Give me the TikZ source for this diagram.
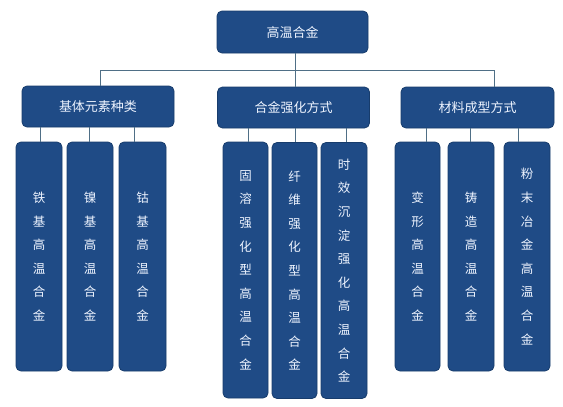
\documentclass[tikz,border=0pt]{standalone}
\usepackage{fontspec}
\newfontfamily\cjk{Noto Sans CJK SC}
\definecolor{boxfill}{HTML}{1F4B86}
\definecolor{boxedge}{HTML}{173C6C}
\definecolor{connc}{HTML}{4F6F86}
\definecolor{txtc}{HTML}{EEF4FF}
\tikzset{
  base/.style={fill=boxfill, draw=boxedge, line width=0.8pt, text=txtc, inner sep=0pt},
  topbox/.style={base, rounded corners=5pt, minimum width=151pt, minimum height=42pt, font=\cjk\fontsize{13}{15}\selectfont},
  midbox/.style={base, rounded corners=5pt, minimum width=152pt, minimum height=41pt, font=\cjk\fontsize{13}{15}\selectfont},
  leafbox/.style={base, rounded corners=5pt, minimum width=46pt, align=center, font=\cjk\fontsize{12.5}{23.6}\selectfont},
  shortleaf/.style={leafbox, minimum height=229pt},
  longleaf/.style={leafbox, minimum height=256pt},
  conn/.style={draw=connc, line width=0.9pt}
}
\begin{document}
\begin{tikzpicture}[x=1pt,y=-1pt]
\useasboundingbox[fill=white] (0,0) rectangle (563,407);
% top
\node[topbox] (top) at (292.5,32) {高温合金};
% level 1
\node[midbox] (la) at (98,106.5) {基体元素种类};
\node[midbox] (lb) at (293.5,107.5) {合金强化方式};
\node[midbox, minimum width=153pt] (lc) at (477.5,107.5) {材料成型方式};
% leaves left
\node[shortleaf] (a1) at (39,256.5) {铁\\基\\高\\温\\合\\金};
\node[shortleaf] (a2) at (90,256.5) {镍\\基\\高\\温\\合\\金};
\node[shortleaf, minimum width=47pt] (a3) at (142.5,256.5) {钴\\基\\高\\温\\合\\金};
% leaves middle
\node[longleaf, minimum width=45pt] (b1) at (245.5,270) {固\\溶\\强\\化\\型\\高\\温\\合\\金};
\node[longleaf, minimum width=45pt] (b2) at (294.5,270.5) {纤\\维\\强\\化\\型\\高\\温\\合\\金};
\node[longleaf] (b3) at (344,270.5) {时\\效\\沉\\淀\\强\\化\\高\\温\\合\\金};
% leaves right
\node[shortleaf, minimum width=45pt] (c1) at (417.5,256.5) {变\\形\\高\\温\\合\\金};
\node[shortleaf] (c2) at (471,256.5) {铸\\造\\高\\温\\合\\金};
\node[shortleaf] (c3) at (527,256.5) {粉\\末\\冶\\金\\高\\温\\合\\金};
% bus
\coordinate (busy) at (0,70);
\draw[conn] ([xshift=2.5pt]top.south) -- ([xshift=2.5pt]top.south |- busy);
\draw[conn] ([xshift=2pt]la.north) |- ([xshift=16.5pt]lc.north |- busy) -- ([xshift=16.5pt]lc.north);
\draw[conn] ([xshift=1.5pt]lb.north) -- ([xshift=1.5pt]lb.north |- busy);
% leaf connectors
\foreach \n/\p/\s in {a1/la/1, a2/la/-1, a3/la/-8.5, b1/lb/2.5, b2/lb/0.5, b3/lb/2.5, c1/lc/8.5, c2/lc/-1, c3/lc/-9}{
  \draw[conn] ([xshift=\s pt]\n.north) -- ([xshift=\s pt]\n.north |- \p.south);
}
\end{tikzpicture}
\end{document}
